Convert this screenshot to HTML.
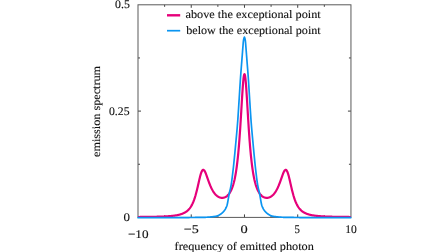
<!DOCTYPE html>
<html><head><meta charset="utf-8"><title>emission spectrum</title>
<style>
html,body{margin:0;padding:0;background:#fff;}
body{width:448px;height:252px;overflow:hidden;}
svg{display:block}
text{font-family:"Liberation Serif",serif;fill:#111;}
.lab{font-size:11.5px}
.num{font-size:11.7px}
text{text-rendering:geometricPrecision;stroke:#111;stroke-width:0.12px}
</style></head><body>
<svg width="448" height="252" viewBox="0 0 448 252">
<rect width="448" height="252" fill="#fff"/>
<path d="M164.62,217.4 v-2 M164.62,4.8 v2 M191.24,217.4 v-3 M191.24,4.8 v3 M217.86,217.4 v-2 M217.86,4.8 v2 M244.47,217.4 v-3 M244.47,4.8 v3 M271.09,217.4 v-2 M271.09,4.8 v2 M297.71,217.4 v-3 M297.71,4.8 v3 M324.33,217.4 v-2 M324.33,4.8 v2 M138.0,164.25 h2 M350.95,164.25 h-2 M138.0,111.10 h3 M350.95,111.10 h-3 M138.0,57.95 h2 M350.95,57.95 h-2" fill="none" stroke="#2a2a2a" stroke-width="0.9"/>
<rect x="138.0" y="4.8" width="212.95" height="212.60" fill="none" stroke="#5a5a5a" stroke-width="1.0"/>
<path d="M138.00,216.99 L138.27,216.99 L138.53,216.98 L138.80,216.98 L139.06,216.98 L139.33,216.98 L139.60,216.98 L139.86,216.97 L140.13,216.97 L140.40,216.97 L140.66,216.97 L140.93,216.96 L141.19,216.96 L141.46,216.96 L141.73,216.96 L141.99,216.96 L142.26,216.95 L142.53,216.95 L142.79,216.95 L143.06,216.95 L143.32,216.94 L143.59,216.94 L143.86,216.94 L144.12,216.93 L144.39,216.93 L144.65,216.93 L144.92,216.93 L145.19,216.92 L145.45,216.92 L145.72,216.92 L145.99,216.91 L146.25,216.91 L146.52,216.91 L146.78,216.90 L147.05,216.90 L147.32,216.90 L147.58,216.89 L147.85,216.89 L148.12,216.89 L148.38,216.88 L148.65,216.88 L148.91,216.88 L149.18,216.87 L149.45,216.87 L149.71,216.86 L149.98,216.86 L150.24,216.86 L150.51,216.85 L150.78,216.85 L151.04,216.84 L151.31,216.84 L151.58,216.83 L151.84,216.83 L152.11,216.82 L152.37,216.82 L152.64,216.81 L152.91,216.81 L153.17,216.80 L153.44,216.80 L153.71,216.79 L153.97,216.79 L154.24,216.78 L154.50,216.78 L154.77,216.77 L155.04,216.76 L155.30,216.76 L155.57,216.75 L155.83,216.75 L156.10,216.74 L156.37,216.73 L156.63,216.73 L156.90,216.72 L157.17,216.71 L157.43,216.71 L157.70,216.70 L157.96,216.69 L158.23,216.68 L158.50,216.68 L158.76,216.67 L159.03,216.66 L159.30,216.65 L159.56,216.64 L159.83,216.63 L160.09,216.63 L160.36,216.62 L160.63,216.61 L160.89,216.60 L161.16,216.59 L161.42,216.58 L161.69,216.57 L161.96,216.56 L162.22,216.55 L162.49,216.54 L162.76,216.52 L163.02,216.51 L163.29,216.50 L163.55,216.49 L163.82,216.48 L164.09,216.47 L164.35,216.45 L164.62,216.44 L164.88,216.43 L165.15,216.41 L165.42,216.40 L165.68,216.38 L165.95,216.37 L166.22,216.35 L166.48,216.34 L166.75,216.32 L167.01,216.30 L167.28,216.29 L167.55,216.27 L167.81,216.25 L168.08,216.23 L168.35,216.22 L168.61,216.20 L168.88,216.18 L169.14,216.16 L169.41,216.14 L169.68,216.11 L169.94,216.09 L170.21,216.07 L170.47,216.05 L170.74,216.02 L171.01,216.00 L171.27,215.97 L171.54,215.94 L171.81,215.92 L172.07,215.89 L172.34,215.86 L172.60,215.83 L172.87,215.80 L173.14,215.77 L173.40,215.74 L173.67,215.71 L173.94,215.67 L174.20,215.64 L174.47,215.60 L174.73,215.56 L175.00,215.52 L175.27,215.48 L175.53,215.44 L175.80,215.40 L176.06,215.36 L176.33,215.31 L176.60,215.26 L176.86,215.22 L177.13,215.17 L177.40,215.11 L177.66,215.06 L177.93,215.00 L178.19,214.95 L178.46,214.89 L178.73,214.83 L178.99,214.76 L179.26,214.70 L179.53,214.63 L179.79,214.56 L180.06,214.48 L180.32,214.41 L180.59,214.33 L180.86,214.25 L181.12,214.16 L181.39,214.07 L181.65,213.98 L181.92,213.89 L182.19,213.79 L182.45,213.69 L182.72,213.58 L182.99,213.47 L183.25,213.35 L183.52,213.23 L183.78,213.11 L184.05,212.98 L184.32,212.84 L184.58,212.70 L184.85,212.55 L185.12,212.40 L185.38,212.24 L185.65,212.07 L185.91,211.89 L186.18,211.71 L186.45,211.52 L186.71,211.32 L186.98,211.11 L187.24,210.89 L187.51,210.67 L187.78,210.43 L188.04,210.18 L188.31,209.92 L188.58,209.65 L188.84,209.36 L189.11,209.06 L189.37,208.75 L189.64,208.42 L189.91,208.07 L190.17,207.71 L190.44,207.33 L190.71,206.93 L190.97,206.52 L191.24,206.08 L191.50,205.62 L191.77,205.14 L192.04,204.64 L192.30,204.11 L192.57,203.55 L192.83,202.97 L193.10,202.36 L193.37,201.73 L193.63,201.06 L193.90,200.36 L194.17,199.63 L194.43,198.87 L194.70,198.07 L194.96,197.24 L195.23,196.37 L195.50,195.48 L195.76,194.54 L196.03,193.57 L196.30,192.57 L196.56,191.54 L196.83,190.48 L197.09,189.39 L197.36,188.27 L197.63,187.13 L197.89,185.98 L198.16,184.81 L198.42,183.64 L198.69,182.46 L198.96,181.29 L199.22,180.13 L199.49,179.00 L199.76,177.90 L200.02,176.83 L200.29,175.81 L200.55,174.85 L200.82,173.95 L201.09,173.13 L201.35,172.39 L201.62,171.73 L201.88,171.17 L202.15,170.70 L202.42,170.34 L202.68,170.07 L202.95,169.91 L203.22,169.84 L203.48,169.88 L203.75,170.00 L204.01,170.22 L204.28,170.52 L204.55,170.89 L204.81,171.33 L205.08,171.84 L205.35,172.40 L205.61,173.01 L205.88,173.66 L206.14,174.35 L206.41,175.06 L206.68,175.79 L206.94,176.54 L207.21,177.29 L207.47,178.06 L207.74,178.82 L208.01,179.58 L208.27,180.34 L208.54,181.08 L208.81,181.82 L209.07,182.54 L209.34,183.25 L209.60,183.94 L209.87,184.62 L210.14,185.27 L210.40,185.91 L210.67,186.53 L210.94,187.13 L211.20,187.71 L211.47,188.26 L211.73,188.80 L212.00,189.32 L212.27,189.82 L212.53,190.31 L212.80,190.77 L213.06,191.21 L213.33,191.64 L213.60,192.05 L213.86,192.44 L214.13,192.81 L214.40,193.17 L214.66,193.51 L214.93,193.84 L215.19,194.15 L215.46,194.44 L215.73,194.72 L215.99,194.99 L216.26,195.24 L216.53,195.48 L216.79,195.71 L217.06,195.93 L217.32,196.13 L217.59,196.32 L217.86,196.49 L218.12,196.66 L218.39,196.82 L218.65,196.96 L218.92,197.09 L219.19,197.21 L219.45,197.32 L219.72,197.42 L219.99,197.51 L220.25,197.59 L220.52,197.66 L220.78,197.72 L221.05,197.77 L221.32,197.80 L221.58,197.83 L221.85,197.85 L222.12,197.86 L222.38,197.86 L222.65,197.84 L222.91,197.82 L223.18,197.79 L223.45,197.74 L223.71,197.69 L223.98,197.62 L224.24,197.55 L224.51,197.46 L224.78,197.36 L225.04,197.25 L225.31,197.12 L225.58,196.99 L225.84,196.84 L226.11,196.68 L226.37,196.50 L226.64,196.31 L226.91,196.11 L227.17,195.89 L227.44,195.65 L227.71,195.40 L227.97,195.13 L228.24,194.85 L228.50,194.54 L228.77,194.22 L229.04,193.87 L229.30,193.51 L229.57,193.12 L229.83,192.70 L230.10,192.27 L230.37,191.80 L230.63,191.31 L230.90,190.79 L231.17,190.24 L231.43,189.66 L231.70,189.04 L231.96,188.38 L232.23,187.69 L232.50,186.96 L232.76,186.18 L233.03,185.35 L233.30,184.47 L233.56,183.55 L233.83,182.56 L234.09,181.51 L234.36,180.40 L234.63,179.23 L234.89,177.97 L235.16,176.64 L235.42,175.23 L235.69,173.73 L235.96,172.13 L236.22,170.43 L236.49,168.62 L236.76,166.70 L237.02,164.65 L237.29,162.48 L237.55,160.17 L237.82,157.71 L238.09,155.10 L238.35,152.34 L238.62,149.40 L238.89,146.30 L239.15,143.02 L239.42,139.56 L239.68,135.93 L239.95,132.13 L240.22,128.15 L240.48,124.03 L240.75,119.77 L241.01,115.41 L241.28,110.96 L241.55,106.49 L241.81,102.03 L242.08,97.64 L242.35,93.41 L242.61,89.39 L242.88,85.68 L243.14,82.35 L243.41,79.49 L243.68,77.18 L243.94,75.48 L244.21,74.43 L244.47,74.08 L244.74,74.43 L245.01,75.48 L245.27,77.18 L245.54,79.49 L245.81,82.35 L246.07,85.68 L246.34,89.39 L246.60,93.41 L246.87,97.64 L247.14,102.03 L247.40,106.49 L247.67,110.96 L247.94,115.41 L248.20,119.77 L248.47,124.03 L248.73,128.15 L249.00,132.13 L249.27,135.93 L249.53,139.56 L249.80,143.02 L250.06,146.30 L250.33,149.40 L250.60,152.34 L250.86,155.10 L251.13,157.71 L251.40,160.17 L251.66,162.48 L251.93,164.65 L252.19,166.70 L252.46,168.62 L252.73,170.43 L252.99,172.13 L253.26,173.73 L253.53,175.23 L253.79,176.64 L254.06,177.97 L254.32,179.23 L254.59,180.40 L254.86,181.51 L255.12,182.56 L255.39,183.55 L255.65,184.47 L255.92,185.35 L256.19,186.18 L256.45,186.96 L256.72,187.69 L256.99,188.38 L257.25,189.04 L257.52,189.66 L257.78,190.24 L258.05,190.79 L258.32,191.31 L258.58,191.80 L258.85,192.27 L259.12,192.70 L259.38,193.12 L259.65,193.51 L259.91,193.87 L260.18,194.22 L260.45,194.54 L260.71,194.85 L260.98,195.13 L261.24,195.40 L261.51,195.65 L261.78,195.89 L262.04,196.11 L262.31,196.31 L262.58,196.50 L262.84,196.68 L263.11,196.84 L263.37,196.99 L263.64,197.12 L263.91,197.25 L264.17,197.36 L264.44,197.46 L264.71,197.55 L264.97,197.62 L265.24,197.69 L265.50,197.74 L265.77,197.79 L266.04,197.82 L266.30,197.84 L266.57,197.86 L266.83,197.86 L267.10,197.85 L267.37,197.83 L267.63,197.80 L267.90,197.77 L268.17,197.72 L268.43,197.66 L268.70,197.59 L268.96,197.51 L269.23,197.42 L269.50,197.32 L269.76,197.21 L270.03,197.09 L270.30,196.96 L270.56,196.82 L270.83,196.66 L271.09,196.49 L271.36,196.32 L271.63,196.13 L271.89,195.93 L272.16,195.71 L272.42,195.48 L272.69,195.24 L272.96,194.99 L273.22,194.72 L273.49,194.44 L273.76,194.15 L274.02,193.84 L274.29,193.51 L274.55,193.17 L274.82,192.81 L275.09,192.44 L275.35,192.05 L275.62,191.64 L275.89,191.21 L276.15,190.77 L276.42,190.31 L276.68,189.82 L276.95,189.32 L277.22,188.80 L277.48,188.26 L277.75,187.71 L278.01,187.13 L278.28,186.53 L278.55,185.91 L278.81,185.27 L279.08,184.62 L279.35,183.94 L279.61,183.25 L279.88,182.54 L280.14,181.82 L280.41,181.08 L280.68,180.34 L280.94,179.58 L281.21,178.82 L281.48,178.06 L281.74,177.29 L282.01,176.54 L282.27,175.79 L282.54,175.06 L282.81,174.35 L283.07,173.66 L283.34,173.01 L283.60,172.40 L283.87,171.84 L284.14,171.33 L284.40,170.89 L284.67,170.52 L284.94,170.22 L285.20,170.00 L285.47,169.88 L285.73,169.84 L286.00,169.91 L286.27,170.07 L286.53,170.34 L286.80,170.70 L287.06,171.17 L287.33,171.73 L287.60,172.39 L287.86,173.13 L288.13,173.95 L288.40,174.85 L288.66,175.81 L288.93,176.83 L289.19,177.90 L289.46,179.00 L289.73,180.13 L289.99,181.29 L290.26,182.46 L290.53,183.64 L290.79,184.81 L291.06,185.98 L291.32,187.13 L291.59,188.27 L291.86,189.39 L292.12,190.48 L292.39,191.54 L292.65,192.57 L292.92,193.57 L293.19,194.54 L293.45,195.48 L293.72,196.37 L293.99,197.24 L294.25,198.07 L294.52,198.87 L294.78,199.63 L295.05,200.36 L295.32,201.06 L295.58,201.73 L295.85,202.36 L296.12,202.97 L296.38,203.55 L296.65,204.11 L296.91,204.64 L297.18,205.14 L297.45,205.62 L297.71,206.08 L297.98,206.52 L298.24,206.93 L298.51,207.33 L298.78,207.71 L299.04,208.07 L299.31,208.42 L299.58,208.75 L299.84,209.06 L300.11,209.36 L300.37,209.65 L300.64,209.92 L300.91,210.18 L301.17,210.43 L301.44,210.67 L301.71,210.89 L301.97,211.11 L302.24,211.32 L302.50,211.52 L302.77,211.71 L303.04,211.89 L303.30,212.07 L303.57,212.24 L303.83,212.40 L304.10,212.55 L304.37,212.70 L304.63,212.84 L304.90,212.98 L305.17,213.11 L305.43,213.23 L305.70,213.35 L305.96,213.47 L306.23,213.58 L306.50,213.69 L306.76,213.79 L307.03,213.89 L307.30,213.98 L307.56,214.07 L307.83,214.16 L308.09,214.25 L308.36,214.33 L308.63,214.41 L308.89,214.48 L309.16,214.56 L309.42,214.63 L309.69,214.70 L309.96,214.76 L310.22,214.83 L310.49,214.89 L310.76,214.95 L311.02,215.00 L311.29,215.06 L311.55,215.11 L311.82,215.17 L312.09,215.22 L312.35,215.26 L312.62,215.31 L312.89,215.36 L313.15,215.40 L313.42,215.44 L313.68,215.48 L313.95,215.52 L314.22,215.56 L314.48,215.60 L314.75,215.64 L315.01,215.67 L315.28,215.71 L315.55,215.74 L315.81,215.77 L316.08,215.80 L316.35,215.83 L316.61,215.86 L316.88,215.89 L317.14,215.92 L317.41,215.94 L317.68,215.97 L317.94,216.00 L318.21,216.02 L318.48,216.05 L318.74,216.07 L319.01,216.09 L319.27,216.11 L319.54,216.14 L319.81,216.16 L320.07,216.18 L320.34,216.20 L320.60,216.22 L320.87,216.23 L321.14,216.25 L321.40,216.27 L321.67,216.29 L321.94,216.30 L322.20,216.32 L322.47,216.34 L322.73,216.35 L323.00,216.37 L323.27,216.38 L323.53,216.40 L323.80,216.41 L324.07,216.43 L324.33,216.44 L324.60,216.45 L324.86,216.47 L325.13,216.48 L325.40,216.49 L325.66,216.50 L325.93,216.51 L326.19,216.52 L326.46,216.54 L326.73,216.55 L326.99,216.56 L327.26,216.57 L327.53,216.58 L327.79,216.59 L328.06,216.60 L328.32,216.61 L328.59,216.62 L328.86,216.63 L329.12,216.63 L329.39,216.64 L329.65,216.65 L329.92,216.66 L330.19,216.67 L330.45,216.68 L330.72,216.68 L330.99,216.69 L331.25,216.70 L331.52,216.71 L331.78,216.71 L332.05,216.72 L332.32,216.73 L332.58,216.73 L332.85,216.74 L333.12,216.75 L333.38,216.75 L333.65,216.76 L333.91,216.76 L334.18,216.77 L334.45,216.78 L334.71,216.78 L334.98,216.79 L335.24,216.79 L335.51,216.80 L335.78,216.80 L336.04,216.81 L336.31,216.81 L336.58,216.82 L336.84,216.82 L337.11,216.83 L337.37,216.83 L337.64,216.84 L337.91,216.84 L338.17,216.85 L338.44,216.85 L338.71,216.86 L338.97,216.86 L339.24,216.86 L339.50,216.87 L339.77,216.87 L340.04,216.88 L340.30,216.88 L340.57,216.88 L340.83,216.89 L341.10,216.89 L341.37,216.89 L341.63,216.90 L341.90,216.90 L342.17,216.90 L342.43,216.91 L342.70,216.91 L342.96,216.91 L343.23,216.92 L343.50,216.92 L343.76,216.92 L344.03,216.93 L344.30,216.93 L344.56,216.93 L344.83,216.93 L345.09,216.94 L345.36,216.94 L345.63,216.94 L345.89,216.95 L346.16,216.95 L346.42,216.95 L346.69,216.95 L346.96,216.96 L347.22,216.96 L347.49,216.96 L347.76,216.96 L348.02,216.96 L348.29,216.97 L348.55,216.97 L348.82,216.97 L349.09,216.97 L349.35,216.98 L349.62,216.98 L349.89,216.98 L350.15,216.98 L350.42,216.98 L350.68,216.99 L350.95,216.99" fill="none" stroke="#e6007a" stroke-width="2.2" stroke-linejoin="round"/>
<path d="M137.40,217.60 L138.17,217.60 L138.95,217.60 L139.72,217.60 L140.49,217.60 L141.26,217.60 L142.04,217.60 L142.81,217.60 L143.58,217.60 L144.35,217.60 L145.13,217.60 L145.90,217.60 L146.67,217.60 L147.45,217.60 L148.22,217.60 L148.99,217.60 L149.76,217.60 L150.54,217.60 L151.31,217.60 L152.08,217.60 L152.85,217.59 L153.63,217.59 L154.40,217.59 L155.17,217.59 L155.95,217.59 L156.72,217.59 L157.49,217.59 L158.26,217.59 L159.04,217.59 L159.81,217.59 L160.58,217.59 L161.35,217.59 L162.13,217.59 L162.90,217.59 L163.67,217.58 L164.45,217.58 L165.22,217.58 L165.99,217.58 L166.76,217.58 L167.54,217.58 L168.31,217.58 L169.08,217.58 L169.85,217.58 L170.63,217.58 L171.40,217.57 L172.17,217.57 L172.95,217.57 L173.72,217.57 L174.49,217.57 L175.26,217.57 L176.04,217.57 L176.81,217.57 L177.58,217.56 L178.35,217.56 L179.13,217.56 L179.90,217.56 L180.67,217.56 L181.45,217.56 L182.22,217.55 L182.99,217.55 L183.76,217.55 L184.54,217.55 L185.31,217.55 L186.08,217.55 L186.85,217.54 L187.63,217.54 L188.40,217.53 L189.17,217.53 L189.95,217.52 L190.72,217.52 L191.49,217.51 L192.26,217.50 L193.04,217.50 L193.81,217.49 L194.58,217.48 L195.35,217.47 L196.13,217.46 L196.90,217.45 L197.67,217.44 L198.45,217.43 L199.22,217.41 L199.99,217.40 L200.76,217.39 L201.54,217.37 L202.31,217.36 L203.08,217.34 L203.85,217.32 L204.63,217.31 L205.40,217.29 L206.17,217.26 L206.95,217.23 L207.72,217.19 L208.49,217.14 L209.26,217.08 L210.04,217.02 L210.81,216.95 L211.58,216.87 L212.35,216.78 L213.13,216.68 L213.90,216.57 L214.40,216.50 L214.45,216.49 L214.50,216.49 L214.55,216.48 L214.60,216.47 L214.65,216.46 L214.70,216.46 L214.75,216.45 L214.80,216.44 L214.85,216.43 L214.90,216.42 L214.95,216.42 L215.00,216.41 L215.05,216.40 L215.10,216.39 L215.15,216.38 L215.20,216.38 L215.25,216.37 L215.30,216.36 L215.35,216.35 L215.40,216.34 L215.45,216.33 L215.50,216.33 L215.55,216.32 L215.60,216.31 L215.65,216.30 L215.70,216.29 L215.75,216.28 L215.80,216.27 L215.85,216.27 L215.90,216.26 L215.95,216.25 L216.00,216.24 L216.05,216.23 L216.10,216.22 L216.15,216.21 L216.20,216.20 L216.25,216.20 L216.30,216.19 L216.35,216.18 L216.40,216.17 L216.45,216.16 L216.50,216.15 L216.55,216.14 L216.60,216.13 L216.65,216.12 L216.70,216.11 L216.75,216.10 L216.80,216.08 L216.85,216.07 L216.90,216.06 L216.95,216.05 L217.00,216.03 L217.05,216.02 L217.10,216.00 L217.15,215.99 L217.20,215.97 L217.25,215.95 L217.30,215.94 L217.35,215.92 L217.40,215.90 L217.45,215.88 L217.50,215.86 L217.55,215.84 L217.60,215.82 L217.65,215.80 L217.70,215.78 L217.75,215.76 L217.80,215.74 L217.85,215.72 L217.90,215.70 L217.95,215.68 L218.00,215.65 L218.05,215.63 L218.10,215.61 L218.15,215.58 L218.20,215.56 L218.25,215.54 L218.30,215.51 L218.35,215.49 L218.40,215.46 L218.45,215.44 L218.50,215.41 L218.55,215.39 L218.60,215.36 L218.65,215.33 L218.70,215.31 L218.75,215.28 L218.80,215.25 L218.85,215.23 L218.90,215.20 L218.95,215.17 L219.00,215.14 L219.05,215.11 L219.10,215.09 L219.15,215.06 L219.20,215.03 L219.25,215.00 L219.30,214.97 L219.35,214.94 L219.40,214.91 L219.45,214.89 L219.50,214.86 L219.55,214.83 L219.60,214.80 L219.65,214.77 L219.70,214.74 L219.75,214.71 L219.80,214.68 L219.85,214.65 L219.90,214.62 L219.95,214.59 L220.00,214.56 L220.05,214.53 L220.10,214.50 L220.15,214.47 L220.20,214.44 L220.25,214.41 L220.30,214.38 L220.35,214.35 L220.40,214.31 L220.45,214.28 L220.50,214.25 L220.55,214.22 L220.60,214.18 L220.65,214.15 L220.70,214.12 L220.75,214.08 L220.80,214.05 L220.85,214.01 L220.90,213.98 L220.95,213.94 L221.00,213.91 L221.05,213.87 L221.10,213.84 L221.15,213.80 L221.20,213.76 L221.25,213.73 L221.30,213.69 L221.35,213.65 L221.40,213.61 L221.45,213.57 L221.50,213.53 L221.55,213.49 L221.60,213.45 L221.65,213.41 L221.70,213.37 L221.75,213.33 L221.80,213.29 L221.85,213.25 L221.90,213.20 L221.95,213.16 L222.00,213.12 L222.05,213.07 L222.10,213.03 L222.15,212.99 L222.20,212.94 L222.25,212.90 L222.30,212.85 L222.35,212.80 L222.40,212.76 L222.45,212.71 L222.50,212.66 L222.55,212.62 L222.60,212.57 L222.65,212.52 L222.70,212.47 L222.75,212.42 L222.80,212.37 L222.85,212.32 L222.90,212.27 L222.95,212.22 L223.00,212.17 L223.05,212.12 L223.10,212.06 L223.15,212.01 L223.20,211.96 L223.25,211.90 L223.30,211.85 L223.35,211.80 L223.40,211.74 L223.45,211.68 L223.50,211.63 L223.55,211.57 L223.60,211.52 L223.65,211.46 L223.70,211.40 L223.75,211.34 L223.80,211.28 L223.85,211.22 L223.90,211.16 L223.95,211.10 L224.00,211.04 L224.05,210.98 L224.10,210.92 L224.15,210.86 L224.20,210.79 L224.25,210.73 L224.30,210.66 L224.35,210.60 L224.40,210.53 L224.45,210.47 L224.50,210.40 L224.55,210.33 L224.60,210.26 L224.65,210.19 L224.70,210.12 L224.75,210.05 L224.80,209.97 L224.85,209.90 L224.90,209.82 L224.95,209.75 L225.00,209.67 L225.05,209.59 L225.10,209.51 L225.15,209.43 L225.20,209.35 L225.25,209.27 L225.30,209.18 L225.35,209.10 L225.40,209.01 L225.45,208.93 L225.50,208.84 L225.55,208.75 L225.60,208.66 L225.65,208.56 L225.70,208.47 L225.75,208.37 L225.80,208.28 L225.85,208.18 L225.90,208.08 L225.95,207.98 L226.00,207.87 L226.05,207.77 L226.10,207.66 L226.15,207.56 L226.20,207.45 L226.25,207.34 L226.30,207.22 L226.35,207.11 L226.40,206.99 L226.45,206.87 L226.50,206.76 L226.55,206.63 L226.60,206.51 L226.65,206.39 L226.70,206.26 L226.75,206.13 L226.80,206.00 L226.85,205.86 L226.90,205.72 L226.95,205.56 L227.00,205.39 L227.05,205.22 L227.10,205.03 L227.15,204.84 L227.20,204.64 L227.25,204.43 L227.30,204.22 L227.35,203.99 L227.40,203.76 L227.45,203.53 L227.50,203.28 L227.55,203.03 L227.60,202.78 L227.65,202.52 L227.70,202.26 L227.75,201.99 L227.80,201.71 L227.85,201.44 L227.90,201.16 L227.95,200.87 L228.00,200.59 L228.05,200.30 L228.10,200.01 L228.15,199.71 L228.20,199.42 L228.25,199.12 L228.30,198.82 L228.35,198.53 L228.40,198.23 L228.45,197.93 L228.50,197.63 L228.55,197.34 L228.60,197.04 L228.65,196.75 L228.70,196.46 L228.75,196.16 L228.80,195.88 L228.85,195.59 L228.90,195.31 L228.95,195.03 L229.00,194.76 L229.05,194.48 L229.10,194.22 L229.15,193.96 L229.20,193.70 L229.25,193.45 L229.30,193.20 L229.35,192.96 L229.40,192.73 L229.45,192.50 L229.50,192.28 L229.55,192.06 L229.60,191.85 L229.65,191.65 L229.70,191.45 L229.75,191.25 L229.80,191.05 L229.85,190.86 L229.90,190.66 L229.95,190.47 L230.00,190.28 L230.05,190.08 L230.10,189.89 L230.15,189.69 L230.20,189.50 L230.25,189.30 L230.30,189.09 L230.35,188.88 L230.40,188.67 L230.45,188.45 L230.50,188.23 L230.55,188.00 L230.60,187.76 L230.65,187.53 L230.70,187.28 L230.75,187.04 L230.80,186.79 L230.85,186.53 L230.90,186.27 L230.95,186.01 L231.00,185.74 L231.05,185.46 L231.10,185.18 L231.15,184.90 L231.20,184.60 L231.25,184.31 L231.30,184.00 L231.35,183.69 L231.40,183.37 L231.45,183.04 L231.50,182.71 L231.55,182.37 L231.60,182.03 L231.65,181.68 L231.70,181.32 L231.75,180.96 L231.80,180.59 L231.85,180.22 L231.90,179.85 L231.95,179.47 L232.00,179.08 L232.05,178.69 L232.10,178.30 L232.15,177.90 L232.20,177.50 L232.25,177.10 L232.30,176.70 L232.35,176.29 L232.40,175.88 L232.45,175.46 L232.50,175.05 L232.55,174.63 L232.60,174.21 L232.65,173.80 L232.70,173.37 L232.75,172.95 L232.80,172.53 L232.85,172.11 L232.90,171.69 L232.95,171.26 L233.00,170.84 L233.05,170.42 L233.10,170.00 L233.15,169.58 L233.20,169.15 L233.25,168.71 L233.30,168.28 L233.35,167.83 L233.40,167.38 L233.45,166.93 L233.50,166.47 L233.55,166.00 L233.60,165.53 L233.65,165.06 L233.70,164.58 L233.75,164.10 L233.80,163.62 L233.85,163.14 L233.90,162.65 L233.95,162.17 L234.00,161.68 L234.05,161.18 L234.10,160.69 L234.15,160.19 L234.20,159.69 L234.25,159.19 L234.30,158.69 L234.35,158.18 L234.40,157.67 L234.45,157.16 L234.50,156.65 L234.55,156.14 L234.60,155.63 L234.65,155.11 L234.70,154.59 L234.75,154.07 L234.80,153.55 L234.85,153.03 L234.90,152.51 L234.95,151.98 L235.00,151.46 L235.05,150.93 L235.10,150.40 L235.15,149.87 L235.20,149.34 L235.25,148.81 L235.30,148.28 L235.35,147.75 L235.40,147.21 L235.45,146.68 L235.50,146.14 L235.55,145.61 L235.60,145.07 L235.65,144.54 L235.70,144.00 L235.75,143.46 L235.80,142.93 L235.85,142.40 L235.90,141.86 L235.95,141.33 L236.00,140.80 L236.05,140.27 L236.10,139.74 L236.15,139.21 L236.20,138.68 L236.25,138.14 L236.30,137.61 L236.35,137.08 L236.40,136.54 L236.45,136.00 L236.50,135.46 L236.55,134.92 L236.60,134.38 L236.65,133.83 L236.70,133.28 L236.75,132.73 L236.80,132.18 L236.85,131.62 L236.90,131.06 L236.95,130.49 L237.00,129.92 L237.05,129.34 L237.10,128.76 L237.15,128.18 L237.20,127.59 L237.25,126.99 L237.30,126.39 L237.35,125.78 L237.40,125.17 L237.45,124.55 L237.50,123.92 L237.55,123.29 L237.60,122.65 L237.65,122.00 L237.70,121.34 L237.75,120.67 L237.80,119.99 L237.85,119.29 L237.90,118.58 L237.95,117.86 L238.00,117.14 L238.05,116.40 L238.10,115.66 L238.15,114.90 L238.20,114.14 L238.25,113.38 L238.30,112.60 L238.35,111.83 L238.40,111.04 L238.45,110.26 L238.50,109.47 L238.55,108.68 L238.60,107.89 L238.65,107.09 L238.70,106.30 L238.75,105.50 L238.80,104.71 L238.85,103.92 L238.90,103.13 L238.95,102.34 L239.00,101.55 L239.05,100.77 L239.10,100.00 L239.15,99.22 L239.20,98.44 L239.25,97.65 L239.30,96.86 L239.35,96.06 L239.40,95.26 L239.45,94.46 L239.50,93.65 L239.55,92.84 L239.60,92.03 L239.65,91.22 L239.70,90.41 L239.75,89.60 L239.80,88.79 L239.85,87.98 L239.90,87.18 L239.95,86.38 L240.00,85.58 L240.05,84.79 L240.10,84.01 L240.15,83.23 L240.20,82.45 L240.25,81.69 L240.30,80.93 L240.35,80.18 L240.40,79.45 L240.45,78.72 L240.50,78.00 L240.55,77.29 L240.60,76.59 L240.65,75.90 L240.70,75.21 L240.75,74.53 L240.80,73.85 L240.85,73.18 L240.90,72.52 L240.95,71.86 L241.00,71.20 L241.05,70.55 L241.10,69.90 L241.15,69.26 L241.20,68.62 L241.25,67.98 L241.30,67.35 L241.35,66.71 L241.40,66.08 L241.45,65.45 L241.50,64.83 L241.55,64.20 L241.60,63.57 L241.65,62.95 L241.70,62.32 L241.75,61.70 L241.80,61.07 L241.85,60.44 L241.90,59.82 L241.95,59.19 L242.00,58.55 L242.05,57.92 L242.10,57.28 L242.15,56.64 L242.20,56.00 L242.25,55.35 L242.30,54.70 L242.35,54.05 L242.40,53.39 L242.45,52.74 L242.50,52.08 L242.55,51.43 L242.60,50.78 L242.65,50.13 L242.70,49.49 L242.75,48.86 L242.80,48.23 L242.85,47.61 L242.90,47.00 L242.95,46.38 L243.00,45.74 L243.05,45.09 L243.10,44.44 L243.15,43.80 L243.20,43.17 L243.25,42.58 L243.30,42.02 L243.35,41.52 L243.40,41.07 L243.45,40.70 L243.50,40.38 L243.55,40.07 L243.60,39.80 L243.65,39.54 L243.70,39.29 L243.75,39.07 L243.80,38.86 L243.85,38.66 L243.90,38.48 L243.95,38.30 L244.00,38.13 L244.05,37.97 L244.10,37.82 L244.15,37.67 L244.20,37.53 L244.25,37.41 L244.30,37.29 L244.35,37.19 L244.40,37.10 L244.45,37.19 L244.50,37.29 L244.55,37.41 L244.60,37.53 L244.65,37.67 L244.70,37.82 L244.75,37.97 L244.80,38.13 L244.85,38.30 L244.90,38.48 L244.95,38.66 L245.00,38.86 L245.05,39.07 L245.10,39.29 L245.15,39.54 L245.20,39.80 L245.25,40.07 L245.30,40.38 L245.35,40.70 L245.40,41.07 L245.45,41.52 L245.50,42.02 L245.55,42.58 L245.60,43.17 L245.65,43.80 L245.70,44.44 L245.75,45.09 L245.80,45.74 L245.85,46.38 L245.90,47.00 L245.95,47.61 L246.00,48.23 L246.05,48.86 L246.10,49.49 L246.15,50.13 L246.20,50.78 L246.25,51.43 L246.30,52.08 L246.35,52.74 L246.40,53.39 L246.45,54.05 L246.50,54.70 L246.55,55.35 L246.60,56.00 L246.65,56.64 L246.70,57.28 L246.75,57.92 L246.80,58.55 L246.85,59.19 L246.90,59.82 L246.95,60.44 L247.00,61.07 L247.05,61.70 L247.10,62.32 L247.15,62.95 L247.20,63.57 L247.25,64.20 L247.30,64.83 L247.35,65.45 L247.40,66.08 L247.45,66.71 L247.50,67.35 L247.55,67.98 L247.60,68.62 L247.65,69.26 L247.70,69.90 L247.75,70.55 L247.80,71.20 L247.85,71.86 L247.90,72.52 L247.95,73.18 L248.00,73.85 L248.05,74.53 L248.10,75.21 L248.15,75.90 L248.20,76.59 L248.25,77.29 L248.30,78.00 L248.35,78.72 L248.40,79.45 L248.45,80.18 L248.50,80.93 L248.55,81.69 L248.60,82.45 L248.65,83.23 L248.70,84.01 L248.75,84.79 L248.80,85.58 L248.85,86.38 L248.90,87.18 L248.95,87.98 L249.00,88.79 L249.05,89.60 L249.10,90.41 L249.15,91.22 L249.20,92.03 L249.25,92.84 L249.30,93.65 L249.35,94.46 L249.40,95.26 L249.45,96.06 L249.50,96.86 L249.55,97.65 L249.60,98.44 L249.65,99.22 L249.70,100.00 L249.75,100.77 L249.80,101.55 L249.85,102.34 L249.90,103.13 L249.95,103.92 L250.00,104.71 L250.05,105.50 L250.10,106.30 L250.15,107.09 L250.20,107.89 L250.25,108.68 L250.30,109.47 L250.35,110.26 L250.40,111.04 L250.45,111.83 L250.50,112.60 L250.55,113.38 L250.60,114.14 L250.65,114.90 L250.70,115.66 L250.75,116.40 L250.80,117.14 L250.85,117.86 L250.90,118.58 L250.95,119.29 L251.00,119.99 L251.05,120.67 L251.10,121.34 L251.15,122.00 L251.20,122.65 L251.25,123.29 L251.30,123.92 L251.35,124.55 L251.40,125.17 L251.45,125.78 L251.50,126.39 L251.55,126.99 L251.60,127.59 L251.65,128.18 L251.70,128.76 L251.75,129.34 L251.80,129.92 L251.85,130.49 L251.90,131.06 L251.95,131.62 L252.00,132.18 L252.05,132.73 L252.10,133.28 L252.15,133.83 L252.20,134.38 L252.25,134.92 L252.30,135.46 L252.35,136.00 L252.40,136.54 L252.45,137.08 L252.50,137.61 L252.55,138.14 L252.60,138.68 L252.65,139.21 L252.70,139.74 L252.75,140.27 L252.80,140.80 L252.85,141.33 L252.90,141.86 L252.95,142.40 L253.00,142.93 L253.05,143.46 L253.10,144.00 L253.15,144.54 L253.20,145.07 L253.25,145.61 L253.30,146.14 L253.35,146.68 L253.40,147.21 L253.45,147.75 L253.50,148.28 L253.55,148.81 L253.60,149.34 L253.65,149.87 L253.70,150.40 L253.75,150.93 L253.80,151.46 L253.85,151.98 L253.90,152.51 L253.95,153.03 L254.00,153.55 L254.05,154.07 L254.10,154.59 L254.15,155.11 L254.20,155.63 L254.25,156.14 L254.30,156.65 L254.35,157.16 L254.40,157.67 L254.45,158.18 L254.50,158.69 L254.55,159.19 L254.60,159.69 L254.65,160.19 L254.70,160.69 L254.75,161.18 L254.80,161.68 L254.85,162.17 L254.90,162.65 L254.95,163.14 L255.00,163.62 L255.05,164.10 L255.10,164.58 L255.15,165.06 L255.20,165.53 L255.25,166.00 L255.30,166.47 L255.35,166.93 L255.40,167.38 L255.45,167.83 L255.50,168.28 L255.55,168.71 L255.60,169.15 L255.65,169.58 L255.70,170.00 L255.75,170.42 L255.80,170.84 L255.85,171.26 L255.90,171.69 L255.95,172.11 L256.00,172.53 L256.05,172.95 L256.10,173.37 L256.15,173.80 L256.20,174.21 L256.25,174.63 L256.30,175.05 L256.35,175.46 L256.40,175.88 L256.45,176.29 L256.50,176.70 L256.55,177.10 L256.60,177.50 L256.65,177.90 L256.70,178.30 L256.75,178.69 L256.80,179.08 L256.85,179.47 L256.90,179.85 L256.95,180.22 L257.00,180.59 L257.05,180.96 L257.10,181.32 L257.15,181.68 L257.20,182.03 L257.25,182.37 L257.30,182.71 L257.35,183.04 L257.40,183.37 L257.45,183.69 L257.50,184.00 L257.55,184.31 L257.60,184.60 L257.65,184.90 L257.70,185.18 L257.75,185.46 L257.80,185.74 L257.85,186.01 L257.90,186.27 L257.95,186.53 L258.00,186.79 L258.05,187.04 L258.10,187.28 L258.15,187.53 L258.20,187.76 L258.25,188.00 L258.30,188.23 L258.35,188.45 L258.40,188.67 L258.45,188.88 L258.50,189.09 L258.55,189.30 L258.60,189.50 L258.65,189.69 L258.70,189.89 L258.75,190.08 L258.80,190.28 L258.85,190.47 L258.90,190.66 L258.95,190.86 L259.00,191.05 L259.05,191.25 L259.10,191.45 L259.15,191.65 L259.20,191.85 L259.25,192.06 L259.30,192.28 L259.35,192.50 L259.40,192.73 L259.45,192.96 L259.50,193.20 L259.55,193.45 L259.60,193.70 L259.65,193.96 L259.70,194.22 L259.75,194.48 L259.80,194.76 L259.85,195.03 L259.90,195.31 L259.95,195.59 L260.00,195.88 L260.05,196.16 L260.10,196.46 L260.15,196.75 L260.20,197.04 L260.25,197.34 L260.30,197.63 L260.35,197.93 L260.40,198.23 L260.45,198.53 L260.50,198.82 L260.55,199.12 L260.60,199.42 L260.65,199.71 L260.70,200.01 L260.75,200.30 L260.80,200.59 L260.85,200.87 L260.90,201.16 L260.95,201.44 L261.00,201.71 L261.05,201.99 L261.10,202.26 L261.15,202.52 L261.20,202.78 L261.25,203.03 L261.30,203.28 L261.35,203.53 L261.40,203.76 L261.45,203.99 L261.50,204.22 L261.55,204.43 L261.60,204.64 L261.65,204.84 L261.70,205.03 L261.75,205.22 L261.80,205.39 L261.85,205.56 L261.90,205.72 L261.95,205.86 L262.00,206.00 L262.05,206.13 L262.10,206.26 L262.15,206.39 L262.20,206.51 L262.25,206.63 L262.30,206.76 L262.35,206.87 L262.40,206.99 L262.45,207.11 L262.50,207.22 L262.55,207.34 L262.60,207.45 L262.65,207.56 L262.70,207.66 L262.75,207.77 L262.80,207.87 L262.85,207.98 L262.90,208.08 L262.95,208.18 L263.00,208.28 L263.05,208.37 L263.10,208.47 L263.15,208.56 L263.20,208.66 L263.25,208.75 L263.30,208.84 L263.35,208.93 L263.40,209.01 L263.45,209.10 L263.50,209.18 L263.55,209.27 L263.60,209.35 L263.65,209.43 L263.70,209.51 L263.75,209.59 L263.80,209.67 L263.85,209.75 L263.90,209.82 L263.95,209.90 L264.00,209.97 L264.05,210.05 L264.10,210.12 L264.15,210.19 L264.20,210.26 L264.25,210.33 L264.30,210.40 L264.35,210.47 L264.40,210.53 L264.45,210.60 L264.50,210.66 L264.55,210.73 L264.60,210.79 L264.65,210.86 L264.70,210.92 L264.75,210.98 L264.80,211.04 L264.85,211.10 L264.90,211.16 L264.95,211.22 L265.00,211.28 L265.05,211.34 L265.10,211.40 L265.15,211.46 L265.20,211.52 L265.25,211.57 L265.30,211.63 L265.35,211.68 L265.40,211.74 L265.45,211.80 L265.50,211.85 L265.55,211.90 L265.60,211.96 L265.65,212.01 L265.70,212.06 L265.75,212.12 L265.80,212.17 L265.85,212.22 L265.90,212.27 L265.95,212.32 L266.00,212.37 L266.05,212.42 L266.10,212.47 L266.15,212.52 L266.20,212.57 L266.25,212.62 L266.30,212.66 L266.35,212.71 L266.40,212.76 L266.45,212.80 L266.50,212.85 L266.55,212.90 L266.60,212.94 L266.65,212.99 L266.70,213.03 L266.75,213.07 L266.80,213.12 L266.85,213.16 L266.90,213.20 L266.95,213.25 L267.00,213.29 L267.05,213.33 L267.10,213.37 L267.15,213.41 L267.20,213.45 L267.25,213.49 L267.30,213.53 L267.35,213.57 L267.40,213.61 L267.45,213.65 L267.50,213.69 L267.55,213.73 L267.60,213.76 L267.65,213.80 L267.70,213.84 L267.75,213.87 L267.80,213.91 L267.85,213.94 L267.90,213.98 L267.95,214.01 L268.00,214.05 L268.05,214.08 L268.10,214.12 L268.15,214.15 L268.20,214.18 L268.25,214.22 L268.30,214.25 L268.35,214.28 L268.40,214.31 L268.45,214.35 L268.50,214.38 L268.55,214.41 L268.60,214.44 L268.65,214.47 L268.70,214.50 L268.75,214.53 L268.80,214.56 L268.85,214.59 L268.90,214.62 L268.95,214.65 L269.00,214.68 L269.05,214.71 L269.10,214.74 L269.15,214.77 L269.20,214.80 L269.25,214.83 L269.30,214.86 L269.35,214.89 L269.40,214.91 L269.45,214.94 L269.50,214.97 L269.55,215.00 L269.60,215.03 L269.65,215.06 L269.70,215.09 L269.75,215.11 L269.80,215.14 L269.85,215.17 L269.90,215.20 L269.95,215.23 L270.00,215.25 L270.05,215.28 L270.10,215.31 L270.15,215.33 L270.20,215.36 L270.25,215.39 L270.30,215.41 L270.35,215.44 L270.40,215.46 L270.45,215.49 L270.50,215.51 L270.55,215.54 L270.60,215.56 L270.65,215.58 L270.70,215.61 L270.75,215.63 L270.80,215.65 L270.85,215.68 L270.90,215.70 L270.95,215.72 L271.00,215.74 L271.05,215.76 L271.10,215.78 L271.15,215.80 L271.20,215.82 L271.25,215.84 L271.30,215.86 L271.35,215.88 L271.40,215.90 L271.45,215.92 L271.50,215.94 L271.55,215.95 L271.60,215.97 L271.65,215.99 L271.70,216.00 L271.75,216.02 L271.80,216.03 L271.85,216.05 L271.90,216.06 L271.95,216.07 L272.00,216.08 L272.05,216.10 L272.10,216.11 L272.15,216.12 L272.20,216.13 L272.25,216.14 L272.30,216.15 L272.35,216.16 L272.40,216.17 L272.45,216.18 L272.50,216.19 L272.55,216.20 L272.60,216.20 L272.65,216.21 L272.70,216.22 L272.75,216.23 L272.80,216.24 L272.85,216.25 L272.90,216.26 L272.95,216.27 L273.00,216.27 L273.05,216.28 L273.10,216.29 L273.15,216.30 L273.20,216.31 L273.25,216.32 L273.30,216.33 L273.35,216.33 L273.40,216.34 L273.45,216.35 L273.50,216.36 L273.55,216.37 L273.60,216.38 L273.65,216.38 L273.70,216.39 L273.75,216.40 L273.80,216.41 L273.85,216.42 L273.90,216.42 L273.95,216.43 L274.00,216.44 L274.05,216.45 L274.10,216.46 L274.15,216.46 L274.20,216.47 L274.25,216.48 L274.30,216.49 L274.35,216.49 L274.40,216.50 L274.90,216.57 L275.67,216.68 L276.45,216.78 L277.22,216.87 L277.99,216.95 L278.76,217.02 L279.54,217.08 L280.31,217.14 L281.08,217.19 L281.85,217.23 L282.63,217.26 L283.40,217.29 L284.17,217.31 L284.95,217.32 L285.72,217.34 L286.49,217.36 L287.26,217.37 L288.04,217.39 L288.81,217.40 L289.58,217.41 L290.35,217.43 L291.13,217.44 L291.90,217.45 L292.67,217.46 L293.45,217.47 L294.22,217.48 L294.99,217.49 L295.76,217.50 L296.54,217.50 L297.31,217.51 L298.08,217.52 L298.85,217.52 L299.63,217.53 L300.40,217.53 L301.17,217.54 L301.95,217.54 L302.72,217.55 L303.49,217.55 L304.26,217.55 L305.04,217.55 L305.81,217.55 L306.58,217.55 L307.35,217.56 L308.13,217.56 L308.90,217.56 L309.67,217.56 L310.45,217.56 L311.22,217.56 L311.99,217.57 L312.76,217.57 L313.54,217.57 L314.31,217.57 L315.08,217.57 L315.85,217.57 L316.63,217.57 L317.40,217.57 L318.17,217.58 L318.95,217.58 L319.72,217.58 L320.49,217.58 L321.26,217.58 L322.04,217.58 L322.81,217.58 L323.58,217.58 L324.35,217.58 L325.13,217.58 L325.90,217.59 L326.67,217.59 L327.45,217.59 L328.22,217.59 L328.99,217.59 L329.76,217.59 L330.54,217.59 L331.31,217.59 L332.08,217.59 L332.85,217.59 L333.63,217.59 L334.40,217.59 L335.17,217.59 L335.95,217.59 L336.72,217.60 L337.49,217.60 L338.26,217.60 L339.04,217.60 L339.81,217.60 L340.58,217.60 L341.35,217.60 L342.13,217.60 L342.90,217.60 L343.67,217.60 L344.45,217.60 L345.22,217.60 L345.99,217.60 L346.76,217.60 L347.54,217.60 L348.31,217.60 L349.08,217.60 L349.85,217.60 L350.63,217.60 L351.40,217.60" fill="none" stroke="#0b95f1" stroke-width="1.7" stroke-linejoin="round"/>
<line x1="167" x2="180.2" y1="15.3" y2="15.3" stroke="#e6007a" stroke-width="2.4"/>
<line x1="167" x2="180.2" y1="30.7" y2="30.7" stroke="#0b95f1" stroke-width="1.7"/>
<text class="lab" transform="translate(185.50,18.1) scale(1.0667,1)">above the exceptional point</text>
<text class="lab" transform="translate(186.20,33.65) scale(1.0559,1)">below the exceptional point</text>
<text class="num" transform="translate(115.09,7.6) scale(1.0128,1)">0.5</text>
<text class="num" transform="translate(109.00,114.6) scale(1.0051,1)">0.25</text>
<text class="num" transform="translate(123.45,220.9) scale(1.1077,1)">0</text>
<text class="num" transform="translate(127.90,237.7) scale(1.1246,1)">−10</text>
<text class="num" transform="translate(183.85,233.0) scale(1.2044,1)">−5</text>
<text class="num" transform="translate(240.58,233.1) scale(1.2308,1)">0</text>
<text class="num" transform="translate(294.42,233.0) scale(0.9263,1)">5</text>
<text class="num" transform="translate(345.26,233.1) scale(0.9902,1)">10</text>
<text class="lab" transform="translate(174.60,249.9) scale(1.0663,1)">frequency of emitted photon</text>
<text class="lab" transform="translate(100.0,156.93) rotate(-90) scale(1.0592,1)">emission spectrum</text>
</svg>
</body></html>
